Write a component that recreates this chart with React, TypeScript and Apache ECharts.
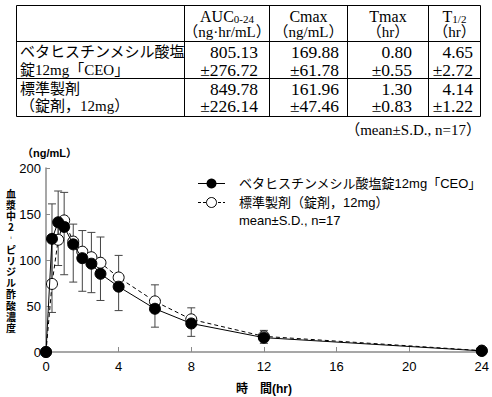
import React, { useEffect, useRef } from "react";
import * as echarts from "echarts";

// ---- data ----
const times = [0, 0.33, 0.67, 1, 1.5, 2, 2.5, 3, 4, 6, 8, 12, 24];
const ceoMean = [0, 123, 141, 136, 117, 102, 96, 85, 71, 47, 31, 15.6, 1.2];
const ceoSD = [0, 80, 47, 52, 41, 36, 31.5, 29, 26, 20, 14, 6.2, 2];
const refMean = [0, 74, 122, 143, 120, 109, 103, 97, 81, 55, 35.5, 17, 1.5];
const refSD = [0, 87, 53, 30.5, 19, 23, 27, 28, 24, 18, 12.5, 6.5, 3];

const seriesNames = ["ベタヒスチンメシル酸塩錠12mg「CEO」", "標準製剤（錠剤，12mg）"];
const noteText = "mean±S.D., n=17";
const yAxisTitle = ["血", "漿", "中", "2", "︲", "ピ", "リ", "ジ", "ル", "酢", "酸", "濃", "度"];
const yUnit = "（ng/mL）";
const xAxisTitle = "時　間(hr)";

// table
const tableHeadMain = ["AUC", "Cmax", "Tmax", "T"];
const tableHeadSub = ["0-24", "", "", "1/2"];
const tableHeadUnit = ["（ng·hr/mL）", "（ng/mL）", "（hr）", "（hr）"];
const rowLabels = [
  ["ベタヒスチンメシル酸塩", "錠12mg「CEO」"],
  ["標準製剤", "（錠剤，12mg）"],
];
const rowMeans = [
  ["805.13", "169.88", "0.80", "4.65"],
  ["849.78", "161.96", "1.30", "4.14"],
];
const rowSDs = [
  ["±276.72", "±61.78", "±0.55", "±2.72"],
  ["±226.14", "±47.46", "±0.83", "±1.22"],
];
const tableNote = "（mean±S.D., n=17）";

const SERIF = "'Liberation Serif', 'DejaVu Serif', 'Noto Sans CJK JP', serif";
const SANS = "'Liberation Sans', 'Noto Sans CJK JP', sans-serif";
const CJK = "'Noto Sans CJK JP', sans-serif";

function buildTable(): any[] {
  const els: any[] = [];
  const L = 16.5, R = 480.5, T = 5.5, B = 116.5;
  const colX = [184.5, 269.5, 347.5, 428.5];
  const rowY = [41.5, 78.5];
  const stroke = { stroke: "#000", lineWidth: 1 };
  els.push({ type: "rect", shape: { x: L, y: T, width: R - L, height: B - T }, style: { fill: "none", ...stroke } });
  rowY.forEach((y) => els.push({ type: "line", shape: { x1: L, y1: y, x2: R, y2: y }, style: stroke }));
  colX.forEach((x) => els.push({ type: "line", shape: { x1: x, y1: T, x2: x, y2: B }, style: stroke }));
  const centers = [227, 308.5, 388, 454.5];
  const rightEdges = [258, 339, 412, 473];
  tableHeadMain.forEach((h, i) => {
    const sub = tableHeadSub[i];
    els.push({
      type: "text",
      x: centers[i],
      y: 16,
      style: {
        text: sub ? `{a|${h}}{s|${sub}}` : `{a|${h}}`,
        rich: {
          a: { fontSize: 16, fontFamily: SERIF, fill: "#000", lineHeight: 17 },
          s: { fontSize: 11, fontFamily: SERIF, fill: "#000", lineHeight: 13, verticalAlign: "bottom" },
        },
        align: "center",
        verticalAlign: "middle",
      },
    });
    els.push({
      type: "text",
      x: centers[i],
      y: 31.5,
      style: { text: tableHeadUnit[i], fontSize: 15, fontFamily: SERIF, fill: "#000", align: "center", verticalAlign: "middle" },
    });
  });
  const lineYs = [
    [52, 70],
    [89, 106],
  ];
  rowLabels.forEach((lbl, r) => {
    lbl.forEach((t, k) => {
      els.push({
        type: "text",
        x: 20,
        y: lineYs[r][k],
        style: { text: t, fontSize: 15, fontFamily: SERIF, fill: "#000", align: "left", verticalAlign: "middle" },
      });
    });
    rowMeans[r].forEach((m, c) => {
      els.push({
        type: "text",
        x: rightEdges[c],
        y: lineYs[r][0],
        style: { text: m, fontSize: 17.5, fontFamily: SERIF, fill: "#000", align: "right", verticalAlign: "middle" },
      });
      els.push({
        type: "text",
        x: rightEdges[c],
        y: lineYs[r][1],
        style: { text: rowSDs[r][c], fontSize: 17.5, fontFamily: SERIF, fill: "#000", align: "right", verticalAlign: "middle" },
      });
    });
  });
  els.push({
    type: "text",
    x: 481,
    y: 130,
    style: { text: tableNote, fontSize: 15, fontFamily: SERIF, fill: "#000", align: "right", verticalAlign: "middle" },
  });
  return els;
}

function buildLegend(): any[] {
  const els: any[] = [];
  const rows = [183.5, 202.5];
  els.push({ type: "line", shape: { x1: 198, y1: rows[0], x2: 225, y2: rows[0] }, style: { stroke: "#000", lineWidth: 1 } });
  els.push({ type: "circle", shape: { cx: 211.5, cy: rows[0], r: 5 }, style: { fill: "#000" } });
  els.push({
    type: "line",
    shape: { x1: 198, y1: rows[1], x2: 225, y2: rows[1] },
    style: { stroke: "#000", lineWidth: 1, lineDash: [3, 2] },
  });
  els.push({ type: "circle", shape: { cx: 211.5, cy: rows[1], r: 5 }, style: { fill: "#fff", stroke: "#000", lineWidth: 1 } });
  [seriesNames[0], seriesNames[1], noteText].forEach((t, i) => {
    els.push({
      type: "text",
      x: 239,
      y: 183.5 + i * 18.5,
      style: { text: t, fontSize: 13, fontFamily: SANS, fill: "#000", align: "left", verticalAlign: "middle" },
    });
  });
  return els;
}

function buildYTitle(): any[] {
  return yAxisTitle.map((ch, i) => ({
    type: "text",
    x: 11,
    y: 193 + i * 11.2,
    style: {
      text: ch,
      fontSize: 10,
      lineHeight: 10,
      fontWeight: "bold",
      fontFamily: CJK,
      fill: "#000",
      align: "center",
      verticalAlign: "middle",
    },
  }));
}

function errorSeries(mean: number[], sd: number[], upper: boolean, z: number): any {
  const data = times
    .map((t, i) => (upper ? [t, mean[i], mean[i] + sd[i]] : [t, mean[i] - sd[i], mean[i]]))
    .filter((_, i) => sd[i] > 0);
  return {
    type: "custom",
    z,
    silent: true,
    data,
    encode: { x: 0, y: [1, 2] },
    renderItem: (params: any, api: any) => {
      const x = api.value(0);
      const p1 = api.coord([x, api.value(1)]);
      const p2 = api.coord([x, api.value(2)]);
      const capY = upper ? p2[1] : p1[1];
      const st = { stroke: "#444", lineWidth: 1 };
      return {
        type: "group",
        children: [
          { type: "line", shape: { x1: p1[0], y1: p1[1], x2: p2[0], y2: p2[1] }, style: st },
          { type: "line", shape: { x1: p1[0] - 4, y1: capY, x2: p1[0] + 4, y2: capY }, style: st },
        ],
      };
    },
  };
}

export default function App() {
  const ref = useRef<HTMLDivElement>(null);
  useEffect(() => {
    document.body.style.margin = "0";
    if (!ref.current) return;
    const chart = echarts.init(ref.current, undefined, { renderer: "svg" });
    const axisGray = "#8a8a8a";
    chart.setOption({
      animation: false,
      backgroundColor: "#fff",
      grid: { left: 46, right: 10, top: 168, bottom: 45 },
      xAxis: {
        type: "value",
        min: 0,
        max: 24,
        interval: 4,
        axisLine: { show: true, lineStyle: { color: axisGray, width: 1.5 } },
        axisTick: { show: true, inside: true, length: 5, lineStyle: { color: axisGray } },
        splitLine: { show: false },
        axisLabel: { fontSize: 13, color: "#000", margin: 8, fontFamily: SANS },
        name: xAxisTitle,
        nameLocation: "middle",
        nameGap: 31,
        nameTextStyle: { fontSize: 12, fontWeight: "bold", color: "#000", fontFamily: SANS },
      },
      yAxis: {
        type: "value",
        min: 0,
        max: 200,
        interval: 50,
        axisLine: { show: true, lineStyle: { color: axisGray, width: 1.5 } },
        axisTick: { show: true, inside: true, length: 4, lineStyle: { color: axisGray } },
        splitLine: { show: false },
        axisLabel: { fontSize: 13, color: "#000", margin: 5, fontFamily: SANS },
      },
      graphic: [
        ...buildTable(),
        ...buildLegend(),
        ...buildYTitle(),
        {
          type: "text",
          x: 22,
          y: 153,
          style: { text: yUnit, fontSize: 11, fontWeight: "bold", fontFamily: SANS, fill: "#000", align: "left", verticalAlign: "middle" },
        },
      ],
      series: [
        errorSeries(refMean, refSD, true, 1),
        errorSeries(ceoMean, ceoSD, false, 1),
        {
          name: seriesNames[1],
          type: "line",
          z: 2,
          data: times.map((t, i) => [t, refMean[i]]),
          symbol: "circle",
          symbolSize: 11,
          lineStyle: { color: "#000", width: 1, type: [4, 3] },
          itemStyle: { color: "#fff", borderColor: "#000", borderWidth: 1 },
        },
        {
          name: seriesNames[0],
          type: "line",
          z: 3,
          data: times.map((t, i) => [t, ceoMean[i]]),
          symbol: "circle",
          symbolSize: 11,
          lineStyle: { color: "#000", width: 1 },
          itemStyle: { color: "#000", borderColor: "#000", borderWidth: 1 },
        },
      ],
    });
    return () => chart.dispose();
  }, []);
  return <div ref={ref} style={{ width: 492, height: 397 }} />;
}
